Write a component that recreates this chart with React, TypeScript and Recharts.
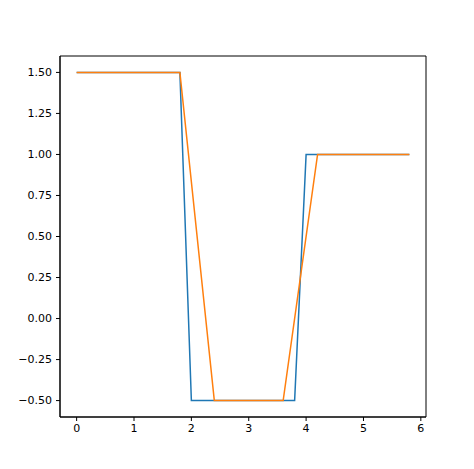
import { LineChart, Line, XAxis, YAxis, ReferenceArea } from 'recharts'

// step series
const blueX = [0, 1.8, 2.0, 3.8, 4.0, 5.8]
const blueY = [1.5, 1.5, -0.5, -0.5, 1.0, 1.0]
const orangeX = [0, 1.8, 2.4, 3.6, 4.2, 5.8]
const orangeY = [1.5, 1.5, -0.5, -0.5, 1.0, 1.0]

const xTicks = [0, 1, 2, 3, 4, 5, 6]
const yTicks = [-0.5, -0.25, 0, 0.25, 0.5, 0.75, 1.0, 1.25, 1.5]

const xDomain = [-0.29, 6.09]
const yDomain = [-0.6, 1.6]

const blueData = blueX.map((x, i) => ({ x, y: blueY[i] }))
const orangeData = orangeX.map((x, i) => ({ x, y: orangeY[i] }))

const tickStyle = { fill: '#000', fontSize: 11, fontFamily: 'DejaVu Sans, sans-serif' }
const fmtY = (v: number) => v.toFixed(2).replace('-', '\u2212')

export default function App() {
  return (
    <div style={{ position: 'absolute', left: 0, top: 0, width: 474, height: 469, background: '#fff' }}>
      <LineChart width={474} height={469} margin={{ top: 56, right: 48, bottom: 0, left: 0 }}>
        <XAxis
          type="number"
          dataKey="x"
          domain={xDomain}
          ticks={xTicks}
          height={52}
          tick={tickStyle}
          tickSize={4}
          tickMargin={3}
          stroke="#000"
          allowDataOverflow
        />
        <YAxis
          type="number"
          domain={yDomain}
          ticks={yTicks}
          width={60}
          tick={tickStyle}
          tickSize={4}
          tickMargin={4}
          tickFormatter={fmtY}
          stroke="#000"
          allowDataOverflow
        />
        {/* axes frame */}
        <ReferenceArea
          x1={xDomain[0]}
          x2={xDomain[1]}
          y1={yDomain[0]}
          y2={yDomain[1]}
          fill="none"
          stroke="#000"
          strokeWidth={1}
        />
        <Line
          data={blueData}
          dataKey="y"
          type="linear"
          stroke="#1f77b4"
          strokeWidth={1.5}
          dot={false}
          isAnimationActive={false}
        />
        <Line
          data={orangeData}
          dataKey="y"
          type="linear"
          stroke="#ff7f0e"
          strokeWidth={1.5}
          dot={false}
          isAnimationActive={false}
        />
      </LineChart>
    </div>
  )
}
